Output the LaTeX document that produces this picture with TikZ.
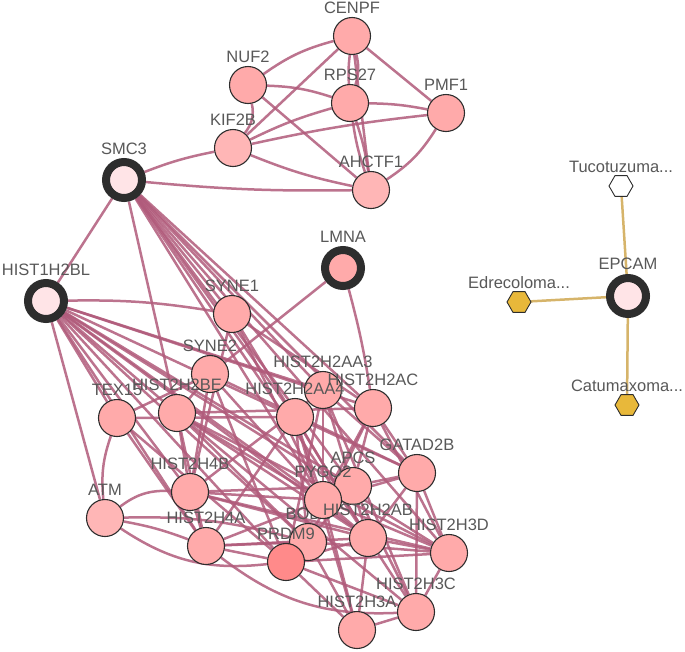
\documentclass[tikz,border=0pt]{standalone}
\usepackage{fontspec}
\setmainfont{Liberation Sans}
\usetikzlibrary{shapes.geometric,backgrounds}
\definecolor{nfill}{RGB}{255,170,170}
\definecolor{nfillb}{RGB}{255,182,182}
\definecolor{nfilld}{RGB}{255,138,138}
\definecolor{qfill}{RGB}{255,228,231}
\definecolor{ndark}{RGB}{45,45,45}
\definecolor{edgec}{RGB}{176,90,122}
\definecolor{edgey}{RGB}{214,180,106}
\definecolor{hexy}{RGB}{232,184,58}
\definecolor{labgray}{RGB}{88,88,88}
\begin{document}
\begin{tikzpicture}[x=1pt,y=-1pt,
  lab/.style={text=labgray,font=\fontsize{16.5}{18}\selectfont,inner sep=0pt},
  every label/.style={lab},
  label distance=3pt,
  gn/.style={circle,draw=ndark,line width=1.1pt,fill=nfill,minimum size=37pt,inner sep=0pt},
  gnb/.style={gn,fill=nfillb},
  gnd/.style={gn,fill=nfilld},
  qn/.style={circle,draw=ndark,line width=8pt,fill=qfill,minimum size=36pt,inner sep=0pt},
  hexn/.style={regular polygon,regular polygon sides=6,draw=ndark,line width=0.9pt,fill=hexy,minimum size=24pt,inner sep=0pt},
  ed/.style={draw=edgec,line width=2.5pt,draw opacity=0.85},
  edy/.style={draw=edgey,line width=2.5pt}]
\useasboundingbox (0,0) rectangle (685,651);
% top cluster
\node[gn,label=above:CENPF] (cenpf) at (352,36) {};
\node[gn,label=above:NUF2] (nuf) at (248,85) {};
\node[gn,label=above:RPS27] (rps) at (350,103) {};
\node[gn,label=above:PMF1] (pmf) at (446,113) {};
\node[gnb,label=above:KIF2B] (kif) at (233,148) {};
\node[gnb,label=above:AHCTF1] (ahc) at (371,190) {};
% hubs
\node[qn,label=above:SMC3] (smc) at (124,180) {};
\node[qn,label=above:HIST1H2BL] (hbl) at (46,301) {};
\node[qn,fill=nfill,label=above:LMNA] (lmna) at (343,268) {};
% main cluster
\node[gn,label=above:SYNE1] (sy1) at (232,314) {};
\node[gn,label=above:SYNE2] (sy2) at (210,374) {};
\node[gn,label=above:HIST2H2AA3] (aa3) at (323,390) {};
\node[gn,label=above:HIST2H2AC] (ac) at (373,408) {};
\node[gn,label=above:HIST2H2AA4] (aa4) at (295,417) {};
\node[gn,label=above:TEX15] (tex) at (117,418) {};
\node[gn,label=above:HIST2H2BE] (be) at (177,413) {};
\node[gn,label=above:HIST2H4B] (h4b) at (190,492) {};
\node[gnb,label=above:ATM] (atm) at (105,518) {};
\node[gn,label=above:HIST2H4A] (h4a) at (206,546) {};
\node[gn,label=above:GATAD2B] (gat) at (417,473) {};
\node[gn,label=above:BOD1] (bod) at (308,542) {};
\node[gnd,label=above:PRDM9] (prdm) at (286,562) {};
\node[gn,label=above:APCS] (apcs) at (353,486) {};
\node[gn,label=above:PYGO2] (pygo) at (323,500) {};
\node[gn,label=above:HIST2H2AB] (ab) at (368,538) {};
\node[gn,label=above:HIST2H3D] (h3d) at (449,553) {};
\node[gn,label=above:HIST2H3C] (h3c) at (416,612) {};
\node[gn,label=above:HIST2H3A] (h3a) at (357,630) {};
% EPCAM group
\node[qn,label={[label distance=4pt]above:EPCAM}] (epcam) at (628,296) {};
\node[hexn,fill=white,label={[label distance=2pt]above:Tucotuzuma...}] (tuco) at (621,186) {};
\node[hexn,label={[label distance=2pt]above:Edrecoloma...}] (edre) at (519,302) {};
\node[hexn,label={[label distance=2pt]above:Catumaxoma...}] (catu) at (627,405) {};
\begin{scope}[on background layer]
% top cluster edges
\draw[ed] (cenpf) to[bend right=10] (nuf);
\draw[ed] (cenpf) to (kif);
\draw[ed] (cenpf) to[bend left=15] (rps);
\draw[ed] (cenpf) to[bend right=5] (rps);
\draw[ed] (cenpf) to (ahc);
\draw[ed] (cenpf) to (pmf);
\draw[ed] (nuf) to[bend left=8] (rps);
\draw[ed] (nuf) to[bend left=25] (kif);
\draw[ed] (nuf) to (ahc);
\draw[ed] (kif) to[bend left=5] (rps);
\draw[ed] (kif) to[bend left=3] (pmf);
\draw[ed] (kif) to[bend right=5] (ahc);
\draw[ed] (rps) to[bend left=5] (ahc);
\draw[ed] (rps) to[bend right=5] (ahc);
\draw[ed] (rps) to[bend left=5] (pmf);
\draw[ed] (pmf) to[bend left=12] (ahc);
\draw[ed] (smc) to[bend left=5] (kif);
\draw[ed] (smc) to[bend right=3] (ahc);
% SMC3
\draw[ed] (smc) -- (hbl);
\draw[ed] (smc) -- (be);
\draw[ed] (smc) -- (sy1);
\draw[ed] (smc) -- (aa3);
\draw[ed] (smc) -- (ac);
\draw[ed] (smc) -- (aa4);
\draw[ed] (smc) -- (pygo);
\draw[ed] (smc) -- (apcs);
\draw[ed] (smc) -- (ab);
\draw[ed] (smc) -- (gat);
\draw[ed] (smc) -- (h3d);
% HIST1H2BL
\draw[ed] (hbl) to[bend left=5] (sy1);
\draw[ed] (hbl) -- (atm);
\draw[ed] (hbl) -- (tex);
\draw[ed] (hbl) -- (be);
\draw[ed] (hbl) -- (h4b);
\draw[ed] (hbl) -- (h4a);
\draw[ed] (hbl) -- (pygo);
\draw[ed] (hbl) -- (bod);
\draw[ed] (hbl) -- (ab);
\draw[ed] (hbl) -- (aa4);
\draw[ed] (hbl) -- (aa3);
\draw[ed] (hbl) -- (prdm);
\draw[ed] (hbl) -- (h3d);
\draw[ed] (hbl) -- (apcs);
\draw[ed] (hbl) -- (ac);
% LMNA
\draw[ed] (lmna) -- (sy2);
\draw[ed] (lmna) to[bend left=3] (ac);
% SYNE1/2
\draw[ed] (sy1) -- (pygo);
\draw[ed] (sy1) -- (ab);
\draw[ed] (sy1) -- (h4b);
\draw[ed] (sy1) -- (ac);
\draw[ed] (sy2) -- (tex);
\draw[ed] (sy2) -- (be);
\draw[ed] (sy2) -- (h4b);
\draw[ed] (sy2) -- (pygo);
\draw[ed] (sy2) -- (prdm);
\draw[ed] (sy2) -- (gat);
% TEX15, ATM
\draw[ed] (tex) to[bend right=12] (atm);
\draw[ed] (tex) -- (h4a);
\draw[ed] (tex) -- (prdm);
\draw[ed] (tex) -- (aa4);
\draw[ed] (atm) to[bend left=20] (h4b);
\draw[ed] (atm) to[bend left=5] (h4a);
\draw[ed] (atm) to[bend right=20] (prdm);
\draw[ed] (atm) to[bend left=8] (bod);
% HIST2H2BE
\draw[ed] (be) -- (h4b);
\draw[ed] (be) -- (pygo);
\draw[ed] (be) -- (ab);
\draw[ed] (be) -- (h3d);
\draw[ed] (be) -- (bod);
\draw[ed] (be) -- (h4a);
\draw[ed] (be) -- (ac);
\draw[ed] (be) -- (h3c);
% HIST2H4B, HIST2H4A
\draw[ed] (h4b) -- (pygo);
\draw[ed] (h4b) -- (ab);
\draw[ed] (h4b) -- (apcs);
\draw[ed] (h4b) -- (h3d);
\draw[ed] (h4b) -- (h4a);
\draw[ed] (h4b) -- (aa3);
\draw[ed] (h4a) -- (pygo);
\draw[ed] (h4a) -- (prdm);
\draw[ed] (h4a) -- (ab);
\draw[ed] (h4a) -- (bod);
\draw[ed] (h4a) to[bend right=20] (h3c);
\draw[ed] (h4a) -- (aa4);
% HIST2H2AA4/AA3/AC
\draw[ed] (aa4) -- (pygo);
\draw[ed] (aa4) -- (bod);
\draw[ed] (aa4) -- (h3a);
\draw[ed] (aa4) -- (ab);
\draw[ed] (aa4) -- (gat);
\draw[ed] (aa3) -- (pygo);
\draw[ed] (aa3) -- (ab);
\draw[ed] (aa3) -- (h3c);
\draw[ed] (aa3) -- (gat);
\draw[ed] (aa3) -- (prdm);
\draw[ed] (ac) -- (pygo);
\draw[ed] (ac) -- (apcs);
\draw[ed] (ac) -- (bod);
\draw[ed] (ac) -- (gat);
\draw[ed] (ac) -- (h3d);
% PYGO2, APCS
\draw[ed] (pygo) -- (apcs);
\draw[ed] (pygo) -- (ab);
\draw[ed] (pygo) -- (h3d);
\draw[ed] (pygo) -- (h3a);
\draw[ed] (pygo) -- (gat);
\draw[ed] (apcs) -- (gat);
\draw[ed] (apcs) -- (h3c);
\draw[ed] (apcs) -- (bod);
% HIST2H2AB etc.
\draw[ed] (ab) -- (h3d);
\draw[ed] (ab) -- (h3c);
\draw[ed] (ab) -- (h3a);
\draw[ed] (ab) -- (prdm);
\draw[ed] (ab) -- (gat);
\draw[ed] (gat) -- (h3d);
\draw[ed] (gat) -- (h3c);
\draw[ed] (h3d) -- (h3c);
\draw[ed] (h3d) -- (prdm);
\draw[ed] (h3d) -- (bod);
\draw[ed] (prdm) -- (h3a);
\draw[ed] (prdm) -- (h3c);
\draw[ed] (bod) -- (h3a);
\draw[ed] (h3c) -- (h3a);
% EPCAM
\draw[edy] (epcam) -- (tuco);
\draw[edy] (epcam) -- (edre);
\draw[edy] (epcam) -- (catu);
\end{scope}
\end{tikzpicture}
\end{document}
